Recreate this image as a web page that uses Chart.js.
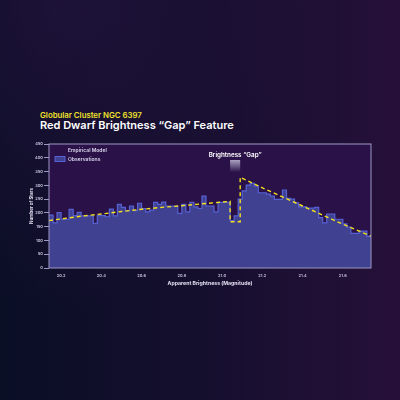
<!DOCTYPE html>
<html>
<head>
<meta charset="utf-8">
<script src="https://cdn.jsdelivr.net/npm/chart.js@4.4.0/dist/chart.umd.min.js"></script>
<style>
  html, body { margin: 0; padding: 0; }
  body {
    width: 400px; height: 400px; overflow: hidden; position: relative;
    background:
      radial-gradient(ellipse at 15% 0%, rgba(45, 20, 70, 0.5) 0%, rgba(45, 20, 70, 0) 55%),
      linear-gradient(90deg, #0a0e25 0%, #150f2e 50%, #261039 100%);
    font-family: Inter, "Open Sans", sans-serif;
  }
  #chart-wrap { position: absolute; left: 0; top: 0; width: 400px; height: 400px; }
  .subtitle { position: absolute; left: 40px; top: 110px; color: #f2e22a; font-size: 7.8px; font-weight: 600; }
  .title { position: absolute; left: 40px; top: 118px; color: #ffffff; font-size: 11px; font-weight: 600; }
</style>
</head>
<body>
<div class="subtitle">Globular Cluster NGC 6397</div>
<div class="title">Red Dwarf Brightness “Gap” Feature</div>
<div id="chart-wrap"><canvas id="gapChart" width="400" height="400"></canvas></div>
<script>
  // Histogram bins (0.02 mag wide, starting at 20.14)
  const BIN_START = 20.14;
  const BIN_WIDTH = 0.02;
  const starCounts = [
    192, 164, 201, 177, 177, 213, 190, 202, 189, 189,
    189, 162, 190, 190, 186, 214, 189, 231, 220, 208,
    225, 208, 235, 216, 204, 210, 238, 231, 239, 225,
    225, 225, 198, 231, 204, 238, 222, 216, 261, 225,
    225, 204, 238, 238, 238, 172, 189, 250, 280, 301,
    307, 298, 273, 273, 268, 261, 249, 249, 283, 253,
    250, 236, 222, 222, 217, 217, 220, 183, 164, 196,
    196, 177, 177, 160, 148, 126, 126, 134, 134, 115
  ];

  // Empirical model (dashed line)
  const modelMags = [20.14, 20.2, 20.3, 20.4, 20.5, 20.6, 20.7, 20.8, 20.9, 21.0, 21.04,
                     21.04, 21.09, 21.09, 21.2, 21.3, 21.4, 21.5, 21.6, 21.7, 21.74];
  const modelCounts = [172, 178, 188, 196, 205, 213, 220, 226, 233, 239, 242,
                       168, 168, 329, 291, 258, 225, 192, 159, 128, 116];

  // Gap annotation
  const gapRange = [21.04, 21.09];
  const gapLabel = 'Brightness “Gap”';

  const xTicks = [20.2, 20.4, 20.6, 20.8, 21.0, 21.2, 21.4, 21.6];

  const histPoints = starCounts.map((c, i) => ({ x: BIN_START + i * BIN_WIDTH, y: c }));
  histPoints.push({ x: BIN_START + starCounts.length * BIN_WIDTH, y: starCounts[starCounts.length - 1] });
  const modelPoints = modelMags.map((m, i) => ({ x: m, y: modelCounts[i] }));

  const FONT = 'Inter, sans-serif';
  const tickFont = { family: FONT, size: 4, weight: '600' };
  const axisColor = '#9d97c4';
  const labelColor = '#dcd8ee';

  // plot background + border
  const plotFrame = {
    id: 'plotFrame',
    beforeDatasetsDraw(chart) {
      const { ctx, chartArea: a } = chart;
      ctx.save();
      ctx.fillStyle = '#2a1249';
      ctx.fillRect(a.left, a.top, a.width, a.height);
      ctx.restore();
    },
    afterDraw(chart) {
      const { ctx, chartArea: a } = chart;
      ctx.save();
      ctx.strokeStyle = axisColor;
      ctx.lineWidth = 1;
      ctx.strokeRect(a.left, a.top, a.width, a.height);
      ctx.restore();
    }
  };

  // legend in the top-left corner of the plot
  const cornerLegend = {
    id: 'cornerLegend',
    afterDatasetsDraw(chart) {
      const { ctx, chartArea: a } = chart;
      const obs = chart.data.datasets[1];
      ctx.save();
      ctx.font = `600 5px ${FONT}`;
      ctx.fillStyle = labelColor;
      ctx.textBaseline = 'middle';
      ctx.fillText(chart.data.datasets[0].label, a.left + 19, a.top + 6.5);
      ctx.fillText(obs.label, a.left + 19, a.top + 15);
      ctx.fillStyle = obs.backgroundColor;
      ctx.strokeStyle = obs.borderColor;
      ctx.lineWidth = 1;
      ctx.fillRect(a.left + 6, a.top + 12.5, 10, 5);
      ctx.strokeRect(a.left + 6, a.top + 12.5, 10, 5);
      ctx.restore();
    }
  };

  // gap label with faded marker box
  const gapNote = {
    id: 'gapNote',
    afterDatasetsDraw(chart) {
      const { ctx, scales: { x, y } } = chart;
      const x0 = x.getPixelForValue(gapRange[0]);
      const x1 = x.getPixelForValue(gapRange[1]);
      const yTop = y.getPixelForValue(392);
      const yBot = y.getPixelForValue(348);
      ctx.save();
      const g = ctx.createLinearGradient(0, yTop, 0, yBot);
      g.addColorStop(0, 'rgba(215, 210, 235, 0.75)');
      g.addColorStop(1, 'rgba(215, 210, 235, 0)');
      ctx.fillStyle = g;
      ctx.fillRect(x0, yTop, x1 - x0, yBot - yTop);
      ctx.fillStyle = '#ffffff';
      ctx.font = `600 6.3px ${FONT}`;
      ctx.textAlign = 'center';
      ctx.textBaseline = 'middle';
      ctx.fillText(gapLabel, (x0 + x1) / 2, y.getPixelForValue(410));
      ctx.restore();
    }
  };

  new Chart(document.getElementById('gapChart'), {
    type: 'line',
    data: {
      datasets: [
        {
          label: 'Empirical Model',
          data: modelPoints,
          borderColor: '#f3e21c',
          backgroundColor: 'rgba(0,0,0,0)',
          borderWidth: 1.4,
          borderDash: [4, 3],
          pointRadius: 0,
          tension: 0,
          order: 0
        },
        {
          label: 'Observations',
          data: histPoints,
          stepped: true,
          borderColor: '#5662d4',
          backgroundColor: 'rgba(66, 68, 150, 0.95)',
          borderWidth: 1.2,
          pointRadius: 0,
          fill: 'origin',
          order: 1
        }
      ]
    },
    options: {
      responsive: false,
      animation: false,
      layout: { padding: { left: 27, right: 29, top: 144, bottom: 110 } },
      plugins: {
        tooltip: { enabled: false },
        legend: { display: false }
      },
      scales: {
        x: {
          type: 'linear',
          min: 20.14,
          max: 21.74,
          afterFit(axis) { axis.height = 22; },
          afterBuildTicks(axis) { axis.ticks = xTicks.map(v => ({ value: v })); },
          grid: { display: false, drawTicks: false },
          border: { display: false },
          ticks: {
            color: '#c9c5de',
            font: tickFont,
            padding: 5,
            maxRotation: 0,
            callback: v => v.toFixed(1)
          },
          title: {
            display: true,
            text: 'Apparent Brightness (Magnitude)',
            color: '#e4e1f2',
            font: { family: FONT, size: 5.2, weight: '700' },
            padding: { top: 2, bottom: 3 }
          }
        },
        y: {
          min: 0,
          max: 450,
          afterFit(axis) { axis.width = 22; },
          grid: { drawOnChartArea: false, drawTicks: true, tickLength: 5, color: axisColor },
          border: { display: false },
          ticks: { stepSize: 50, color: '#c9c5de', font: tickFont, padding: 1 },
          title: {
            display: true,
            text: 'Number of Stars',
            color: '#e4e1f2',
            font: { family: FONT, size: 4.5, weight: '700' },
            padding: { top: 2, bottom: 0 }
          }
        }
      }
    },
    plugins: [plotFrame, cornerLegend, gapNote]
  });
</script>
</body>
</html>
